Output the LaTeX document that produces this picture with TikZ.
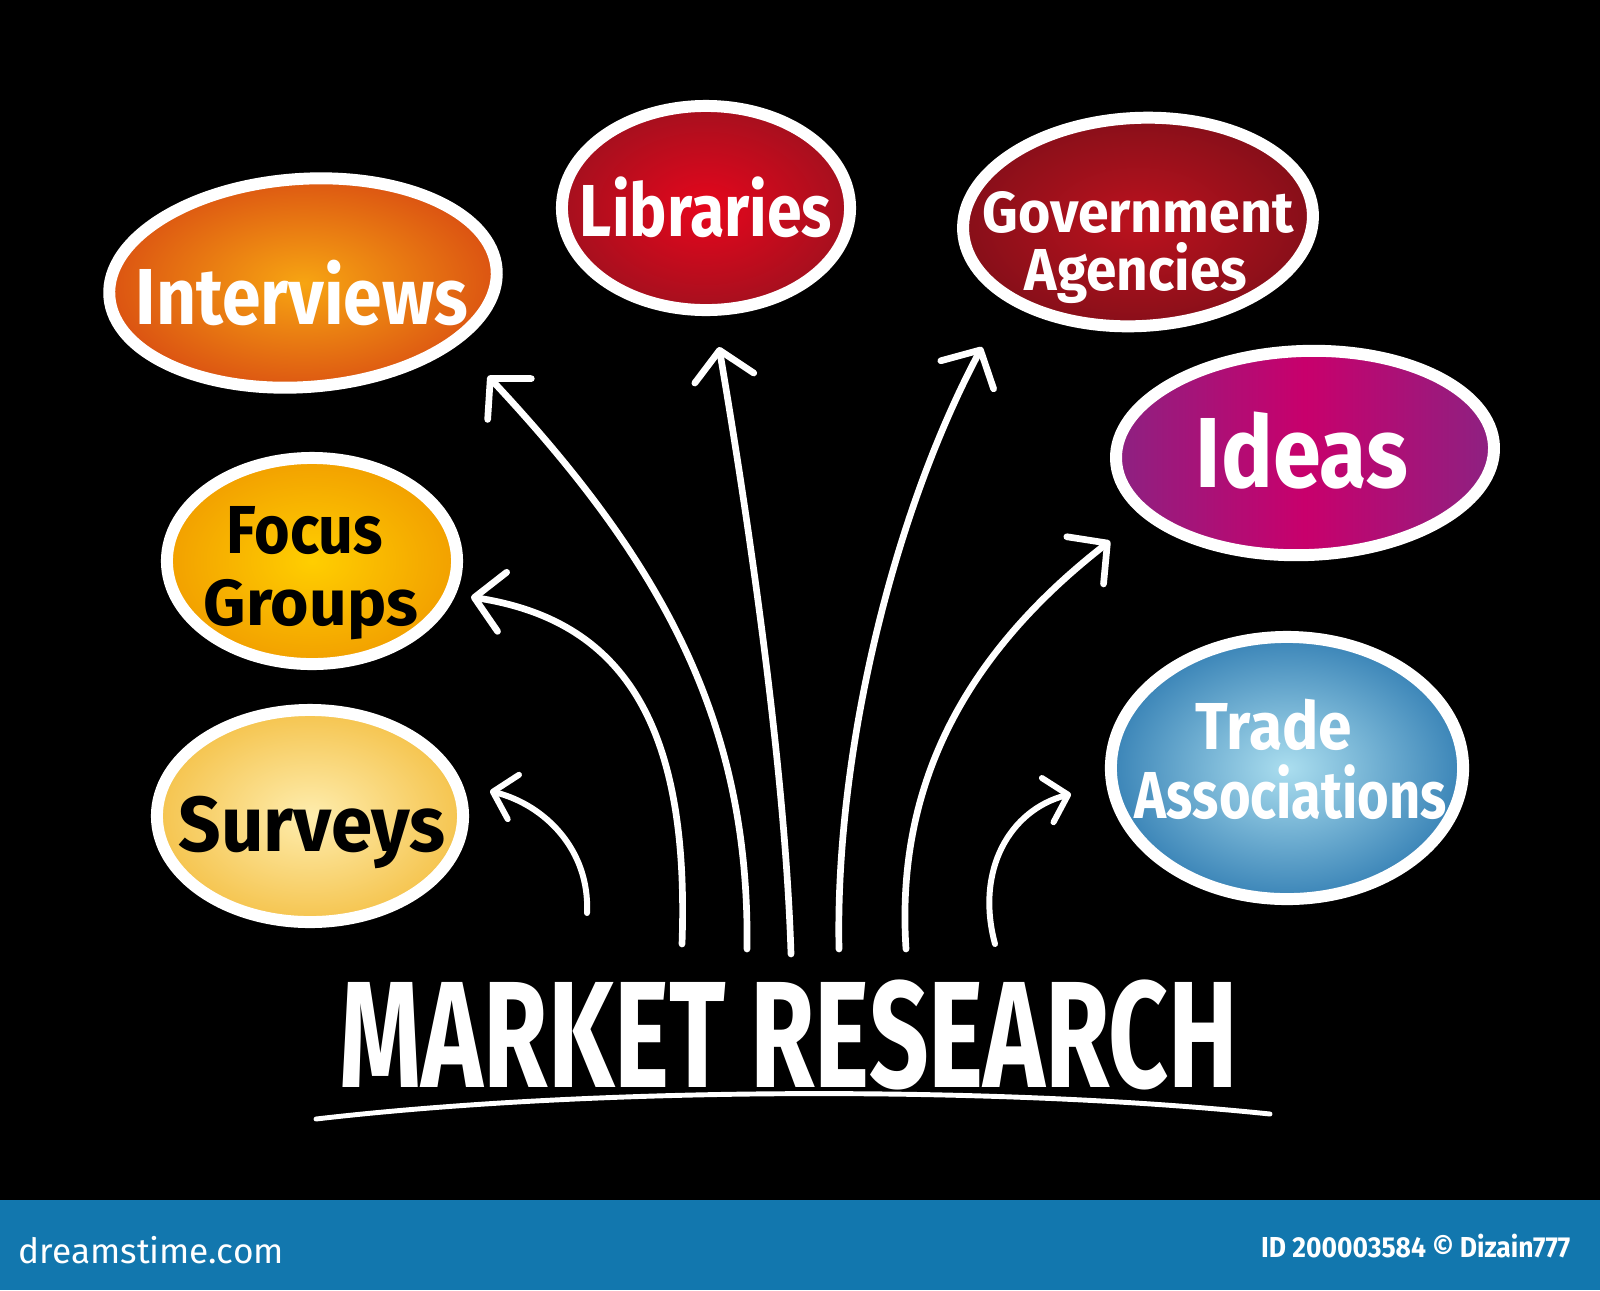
\documentclass[tikz,border=0pt]{standalone}
\usepackage{fontspec}
\setmainfont{Fira Sans}
\usetikzlibrary{shapes.geometric,arrows.meta}
\newcommand{\fitbox}[3]{\resizebox{#1}{#2}{\raisebox{0pt}[\fontcharht\font`H]{#3}}}
\definecolor{barblue}{HTML}{1277AE}
\definecolor{intin}{HTML}{F7A512}
\definecolor{intout}{HTML}{DB5212}
\definecolor{libin}{HTML}{E6061C}
\definecolor{libout}{HTML}{A5101E}
\definecolor{govin}{HTML}{BC121E}
\definecolor{govout}{HTML}{860F19}
\definecolor{ideamid}{HTML}{C8006C}
\definecolor{ideaside}{HTML}{8C2282}
\definecolor{focin}{HTML}{FFCE00}
\definecolor{focout}{HTML}{F2A000}
\definecolor{surin}{HTML}{FEEDAE}
\definecolor{surout}{HTML}{F5C44E}
\definecolor{trin}{HTML}{ABDEEF}
\definecolor{trout}{HTML}{3A84B7}
\begin{document}
\begin{tikzpicture}[x=0.01cm,y=-0.01cm,
  bub/.style={ellipse, draw=white, line width=3.4pt, inner sep=0pt},
  lab/.style={anchor=base, inner sep=0pt, font=\bfseries},
  arr/.style={draw=white, line width=1.9pt, line cap=round,
    -{Straight Barb[length=8pt,width=17pt,round]}},
  sarr/.style={draw=white, line width=1.7pt, line cap=round,
    -{Straight Barb[length=6pt,width=13pt,round]}}
]
\fill[black] (0,0) rectangle (1600,1200);
\fill[barblue] (0,1200) rectangle (1600,1290);
\path[use as bounding box] (0,0) rectangle (1600,1290);

% bubbles
\node[bub, shade, inner color=intin, outer color=intout,
  minimum width=3.88cm, minimum height=2.08cm, rotate=4] (interviews) at (303,283) {};
\node[bub, shade, inner color=libin, outer color=libout,
  minimum width=2.88cm, minimum height=2.04cm] (libraries) at (706,208) {};
\node[bub, shade, inner color=govin, outer color=govout,
  minimum width=3.50cm, minimum height=2.08cm, rotate=3] (government) at (1138,222) {};
\node[bub, left color=ideaside, right color=ideaside, middle color=ideamid,
  minimum width=3.78cm, minimum height=2.04cm, rotate=2] (ideas) at (1305,453) {};
\node[bub, shade, inner color=focin, outer color=focout,
  minimum width=2.90cm, minimum height=2.06cm] (focus) at (312,561) {};
\node[bub, shade, inner color=surin, outer color=surout,
  minimum width=3.06cm, minimum height=2.12cm] (surveys) at (310,816) {};
\node[bub, shade, inner color=trin, outer color=trout,
  minimum width=3.52cm, minimum height=2.62cm] (trade) at (1287,768) {};

% labels
\node[lab, white] (linterviews) at (302,324) {\fitbox{3.32cm}{0.55cm}{Interviews}};
\node[lab, white] (llibraries) at (706,236) {\fitbox{2.52cm}{0.51cm}{Libraries}};
\node[lab, white] (lgov1) at (1138,232) {\fitbox{3.11cm}{0.40cm}{Government}};
\node[lab, white] (lgov2) at (1136,290) {\fitbox{2.22cm}{0.41cm}{Agencies}};
\node[lab, white] (lideas) at (1302,487) {\fitbox{2.12cm}{0.69cm}{Ideas}};
\node[lab, black] (lfocus1) at (305,553) {\fitbox{1.56cm}{0.47cm}{Focus}};
\node[lab, black] (lfocus2) at (311,625) {\fitbox{2.14cm}{0.45cm}{Groups}};
\node[lab, black] (lsurveys) at (312,851) {\fitbox{2.67cm}{0.54cm}{Surveys}};
\node[lab, white] (ltrade1) at (1274,749) {\fitbox{1.56cm}{0.46cm}{Trade}};
\node[lab, white] (ltrade2) at (1291,818) {\fitbox{3.12cm}{0.46cm}{Associations}};

% title
\node[lab, white] (title) at (789,1087) {\fitbox{8.98cm}{1.05cm}{MARKET RESEARCH}};
\coordinate (ul) at (316,1119);
\coordinate (ur) at (1270,1114);
\draw[white, line width=1.4pt, line cap=round] (ul) .. controls (600,1086) and (1000,1086) .. (ur);

% arrows
\coordinate (s1) at (587,913);  \coordinate (e1) at (490,791);
\coordinate (s2) at (682,944);  \coordinate (e2) at (471,597);
\coordinate (s3) at (747,949);  \coordinate (e3) at (488,376);
\coordinate (s4) at (791,954);  \coordinate (e4) at (719,347);
\coordinate (s5) at (839,949);  \coordinate (e5) at (982,347);
\coordinate (s6) at (906,949);  \coordinate (e6) at (1110,541);
\coordinate (s7) at (995,944);  \coordinate (e7) at (1071,794);
\draw[sarr] (s1) .. controls (590,850) and (545,805) .. (e1);
\draw[arr] (s2) .. controls (690,720) and (620,620) .. (e2);
\draw[arr] (s3) .. controls (750,720) and (660,560) .. (e3);
\draw[arr] (s4) .. controls (785,760) and (745,500) .. (e4);
\draw[arr] (s5) .. controls (835,760) and (890,520) .. (e5);
\draw[arr] (s6) .. controls (895,780) and (970,650) .. (e6);
\draw[sarr] (s7) .. controls (975,870) and (1010,810) .. (e7);

% footer
\node[anchor=base west, inner sep=0pt, white] (brand) at (18,1263) {\fitbox{2.65cm}{0.24cm}{dreamstime.com}};
\node[anchor=base east, inner sep=0pt, white, font=\bfseries] (imgid) at (1571,1257) {\fitbox{3.09cm}{0.20cm}{ID 200003584 © Dizain777}};
\end{tikzpicture}
\end{document}
